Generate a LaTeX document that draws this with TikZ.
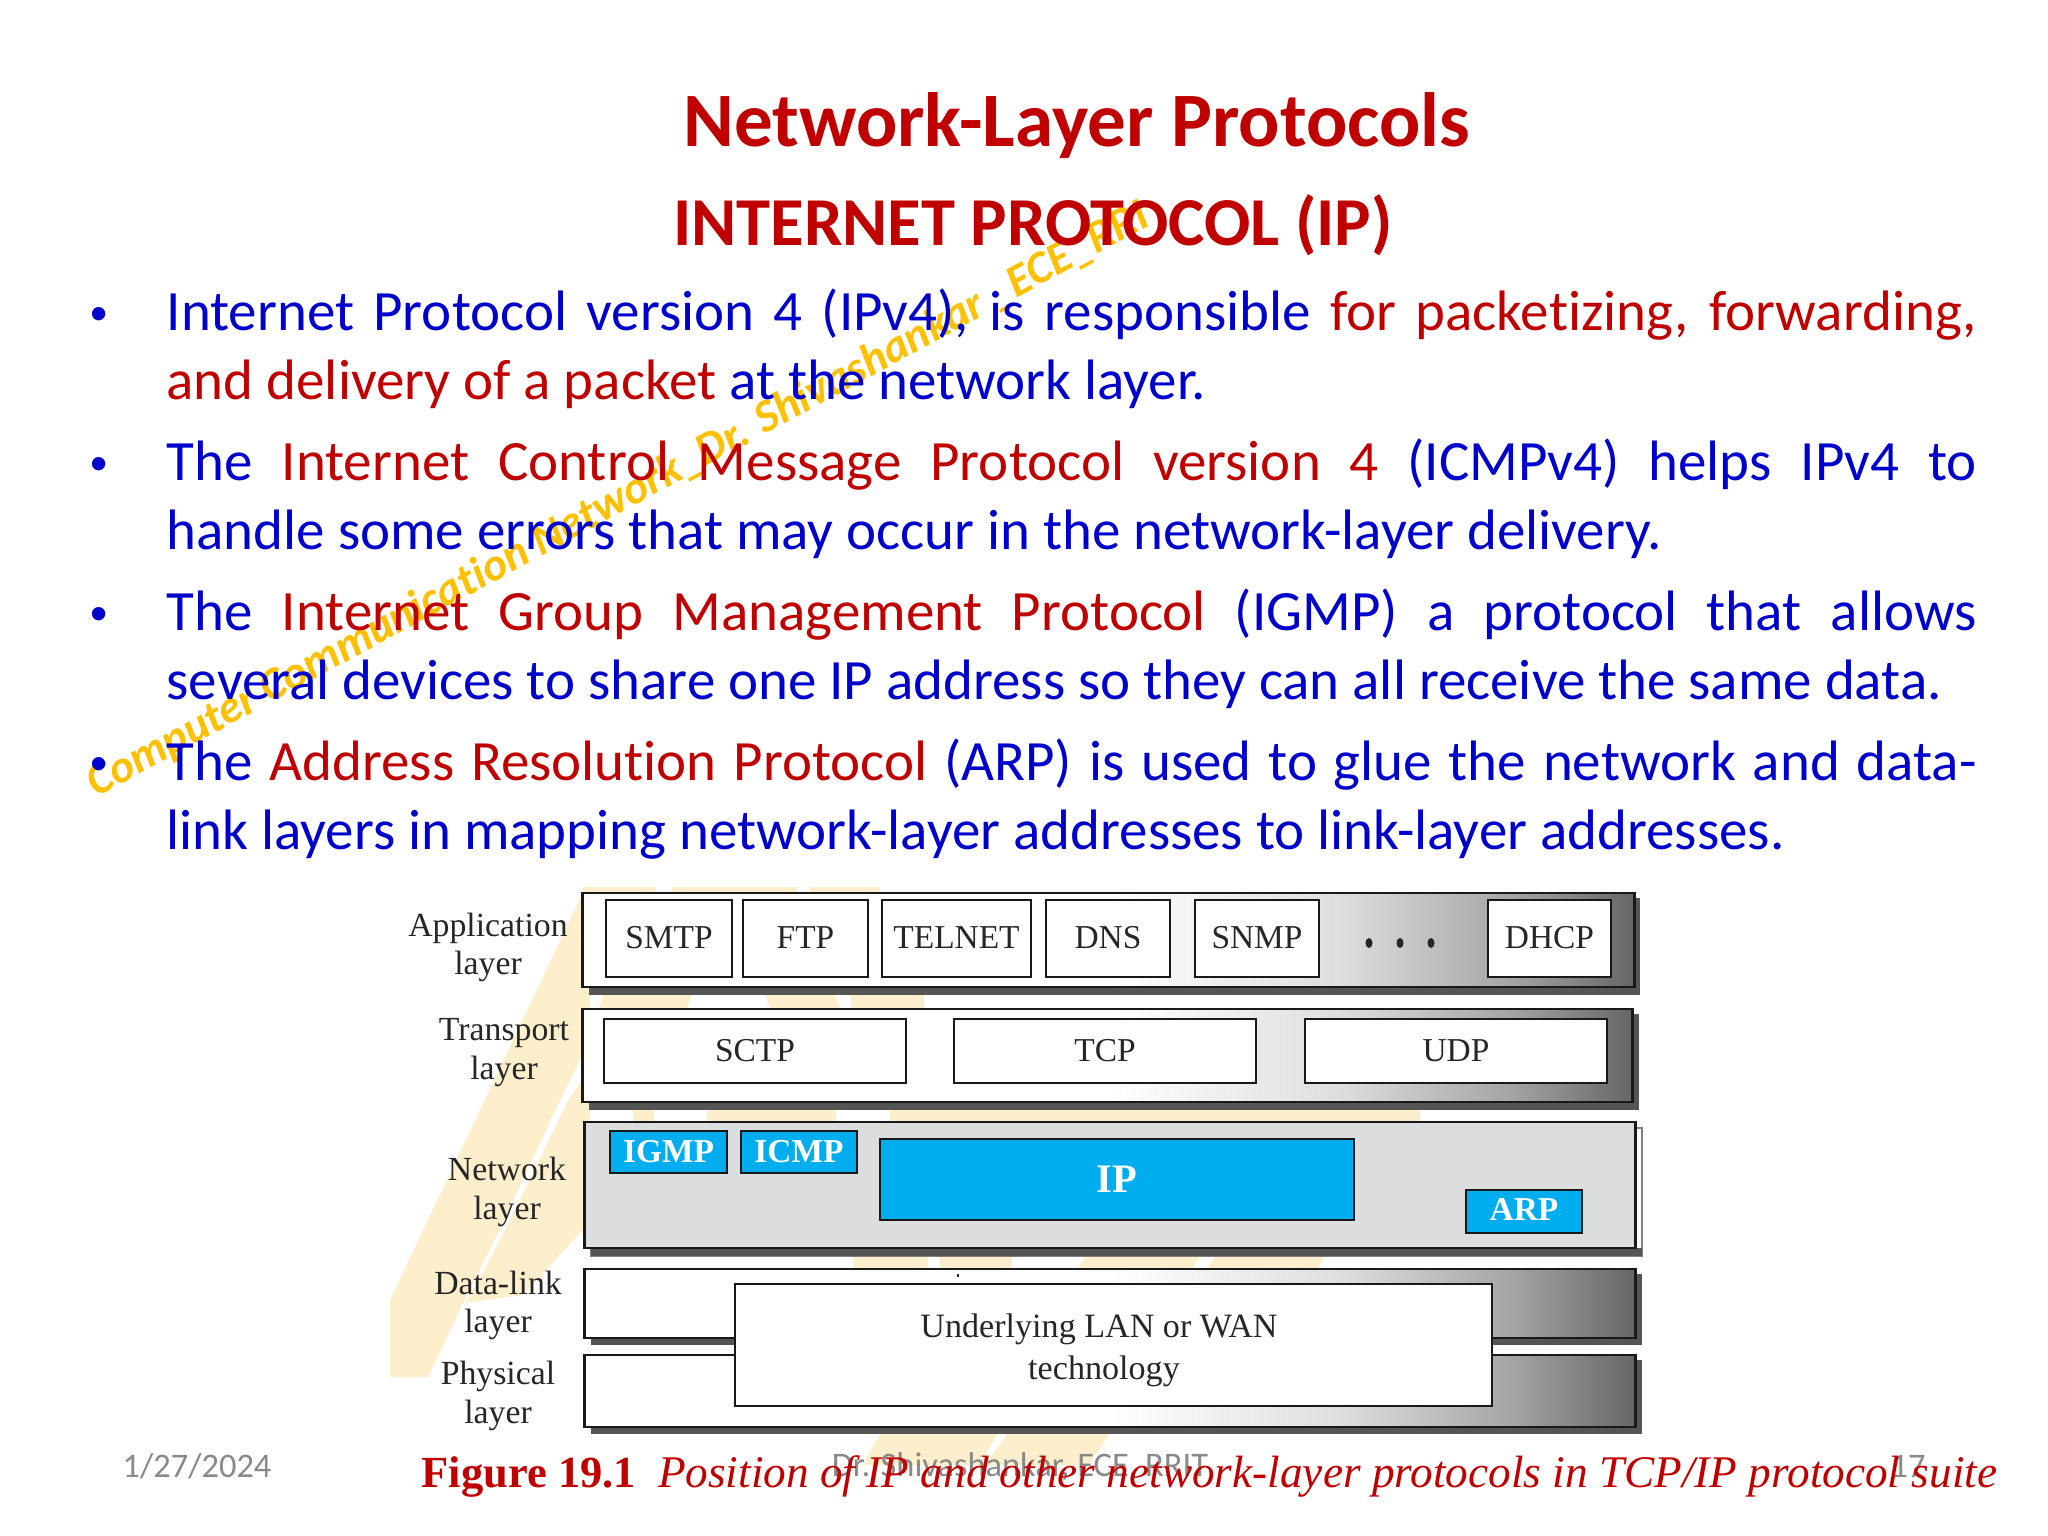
\documentclass[tikz,border=0pt]{standalone}
\usepackage{fontspec}
\setmainfont[Ligatures=NoCommon]{Carlito}
\newfontfamily\figfont{Liberation Serif}
\newfontfamily\bulletfont{Liberation Sans}
\definecolor{slideblue}{HTML}{0000CC}
\definecolor{slidered}{HTML}{C00000}
\definecolor{markyellow}{HTML}{FFC000}
\definecolor{logotint}{HTML}{FDEFCB}
\definecolor{protoblue}{HTML}{00AEEF}
\definecolor{netgray}{HTML}{DCDDDE}
\definecolor{shadowgray}{HTML}{555555}
\definecolor{footgray}{HTML}{898989}
\definecolor{shadea}{HTML}{DDDEDF}
\definecolor{shadeb}{HTML}{A5A6A7}
\definecolor{shadec}{HTML}{666666}
\pgfdeclarehorizontalshading{layershade}{100bp}{color(0bp)=(white); color(50bp)=(white); color(61bp)=(shadea); color(69bp)=(shadeb); color(75bp)=(shadec); color(100bp)=(shadec)}
\newcommand{\redtxt}[1]{\textcolor{slidered}{#1}}
\newcommand{\fullline}[1]{\makebox[18.09cm][s]{#1}}
\tikzset{
	bodyline/.style={anchor=base west,inner sep=0pt,text=slideblue,font=\fontsize{16.2}{19}\selectfont},
	bulletmark/.style={anchor=base,inner sep=0pt,text=slideblue,font=\bulletfont\fontsize{14}{17}\selectfont},
	headline/.style={anchor=base,inner sep=0pt,text=slidered,font=\bfseries\fontsize{#1}{#1}\selectfont},
	layerbox/.style={draw=black!90,line width=0.7pt,inner sep=0pt,shading=layershade},
	protobox/.style={draw=black!90,line width=0.7pt,fill=white,inner sep=0pt,text=black!85,font=\figfont\fontsize{9.5}{11}\selectfont},
	bluebox/.style={draw=black!90,line width=0.7pt,fill=protoblue,inner sep=0pt,text=white,font=\figfont\bfseries\fontsize{9.5}{11}\selectfont},
	layername/.style={align=center,inner sep=0pt,text=black!85,font=\figfont\fontsize{9.6}{11}\selectfont},
	footnote/.style={anchor=base,inner sep=0pt,text=footgray,font=\fontsize{9.8}{12}\selectfont}
}
\begin{document}
\begin{tikzpicture}[x=0.01cm,y=-0.01cm]
	\useasboundingbox (0,0) rectangle (2048,1536);
	\fill[logotint] (585,888)--(390,1300)--(390,1377)--(428,1377)--(463,1303)--(493,1243)--(565,1090)--(590,1040)--(590,888)--cycle;
	\fill[logotint] (570,1097)--(500,1240)--(476,1285)--(465,1303)--(523,1295)--(590,1222)--(590,1070)--cycle;
	\foreach \xa/\xb/\ya/\yb/\s in {583/656/887/895/0,672/797/887/895/0,810/880/887/895/0,
		604/692/995/1010/-6,765/835/995/1010/6,851/924/995/1010/0,
		633/654/1108/1124/0,707/836/1108/1124/0,890/1420/1108/1124/0,
		853/928/1256/1270/0,940/1012/1256/1270/0,1085/1200/1256/1270/-8,1215/1325/1256/1270/-8,
		880/997/1434/1465/-17,1007/1110/1434/1465/-22}{
		\fill[logotint] (\xa,\ya)--(\xb,\ya)--(\xb+\s,\yb)--(\xa+\s,\yb)--cycle;
	}
	\node[anchor=base west,rotate=28.5,inner sep=0pt,text=markyellow,font=\bfseries\itshape\fontsize{13}{15}\selectfont] (stamp) at (96,798) {Computer Communication Network\_Dr. Shivashankar \_ECE\_RRI};
	\node[headline=21.9] (title) at (1077,146) {Network-Layer Protocols};
	\node[headline=19.5] (subtitle) at (1033,245) {INTERNET PROTOCOL (IP)};
	\foreach \y in {330,480,630,780}{
		\node[bulletmark] (dot\y) at (99,\y) {•};
	}
	\node[bodyline] (lineA) at (166,330) {\fullline{Internet Protocol version 4 (IPv4), is responsible \redtxt{for packetizing, forwarding,}}};
	\node[bodyline] (lineB) at (166,399) {\redtxt{and delivery of a packet} at the network layer.};
	\node[bodyline] (lineC) at (166,480) {\fullline{The \redtxt{Internet Control Message Protocol version 4} (ICMPv4) helps IPv4 to}};
	\node[bodyline] (lineD) at (166,549) {handle some errors that may occur in the network-layer delivery.};
	\node[bodyline] (lineE) at (166,630) {\fullline{The \redtxt{Internet Group Management Protocol} (IGMP) a protocol that allows}};
	\node[bodyline] (lineF) at (166,699) {several devices to share one IP address so they can all receive the same data.};
	\node[bodyline] (lineG) at (166,780) {\fullline{The \redtxt{Address Resolution Protocol} (ARP) is used to glue the network and data-}};
	\node[bodyline] (lineH) at (166,849) {link layers in mapping network-layer addresses to link-layer addresses.};
	\fill[shadowgray] (589,898) rectangle (1640,995);
	\fill[shadowgray] (589,1014) rectangle (1639,1110);
	\fill[white,draw=black!50,line width=0.3pt] (591,1128) rectangle (1642,1256);
	\fill[shadowgray] (591,1248) rectangle (1642,1256);
	\fill[shadowgray] (591,1274) rectangle (1642,1345);
	\fill[shadowgray] (591,1360) rectangle (1642,1434);
	\node[layerbox,minimum width=10.51cm,minimum height=0.94cm] (applayer) at (1108.5,940) {};
	\node[layerbox,minimum width=10.49cm,minimum height=0.93cm] (translayer) at (1107.5,1055.5) {};
	\node[draw=black!90,line width=0.7pt,fill=netgray,inner sep=0pt,minimum width=10.5cm,minimum height=1.26cm] (netlayer) at (1110,1185) {};
	\node[layerbox,minimum width=10.5cm,minimum height=0.69cm] (linklayer) at (1110,1303.5) {};
	\node[layerbox,minimum width=10.5cm,minimum height=0.72cm] (physlayer) at (1110,1391) {};
	\foreach \name/\cx/\boxw/\txt in {smtp/669/126/SMTP,ftp/805.5/125/FTP,telnet/956.5/149/TELNET,dns/1108/124/DNS,snmp/1257/124/SNMP,dhcp/1549.5/123/DHCP}{
		\node[protobox,minimum width=\boxw*0.01cm,minimum height=0.77cm] (\name) at (\cx,938.5) {\raisebox{0.8pt}{\txt}};
	}
	\foreach \x in {1369,1400,1431}{
		\fill[black!85] (\x,943) ellipse (0.035cm and 0.05cm);
	}
	\foreach \name/\cx/\txt in {sctp/755/SCTP,tcp/1105/TCP,udp/1456/UDP}{
		\node[protobox,minimum width=3.02cm,minimum height=0.64cm] (\name) at (\cx,1051) {\txt};
	}
	\node[bluebox,minimum width=1.17cm,minimum height=0.42cm] (igmp) at (668.5,1152) {\raisebox{0.3pt}{IGMP}};
	\node[bluebox,minimum width=1.16cm,minimum height=0.42cm] (icmp) at (799,1152) {\raisebox{0.3pt}{ICMP}};
	\node[bluebox,font=\figfont\bfseries\fontsize{11.5}{13}\selectfont,minimum width=4.74cm,minimum height=0.81cm] (ip) at (1117,1179.5) {IP};
	\node[bluebox,minimum width=1.16cm,minimum height=0.43cm] (arp) at (1524,1211.5) {\raisebox{1pt}{ARP}};
	\fill[black!85] (957,1274) rectangle (959,1277);
	\node[protobox,minimum width=7.57cm,minimum height=1.22cm] (lanwan) at (1113.5,1345) {};
	\node[protobox,draw=none,fill=none,font=\figfont\fontsize{9.7}{11}\selectfont] (lanA) at (1099,1329) {Underlying LAN or WAN};
	\node[protobox,draw=none,fill=none,font=\figfont\fontsize{9.7}{11}\selectfont] (lanB) at (1104,1371) {technology};
	\node[layername] (nameA) at (488,947.5) {Application\\layer};
	\node[layername] (nameB) at (504,1052.5) {Transport\\layer};
	\node[layername] (nameC) at (507,1192) {Network\\layer};
	\node[layername] (nameD) at (498,1305.5) {Data-link\\layer};
	\node[layername] (nameE) at (498,1396) {Physical\\layer};
	\node[footnote] (footdate) at (197,1477) {1/27/2024};
	\node[footnote] (footname) at (1020,1476) {Dr. Shivashankar, ECE, RRIT};
	\node[footnote] (footpage) at (1908,1477) {17};
	\node[anchor=base west,inner sep=0pt,text=slidered,font=\figfont\fontsize{12.65}{14}\selectfont] (caption) at (421,1487) {\textbf{Figure 19.1}\hspace{6.3pt}{\fontsize{12.87}{14}\selectfont\textit{Position of IP and other network-layer protocols in TCP/IP protocol suite}}};
\end{tikzpicture}
\end{document}
